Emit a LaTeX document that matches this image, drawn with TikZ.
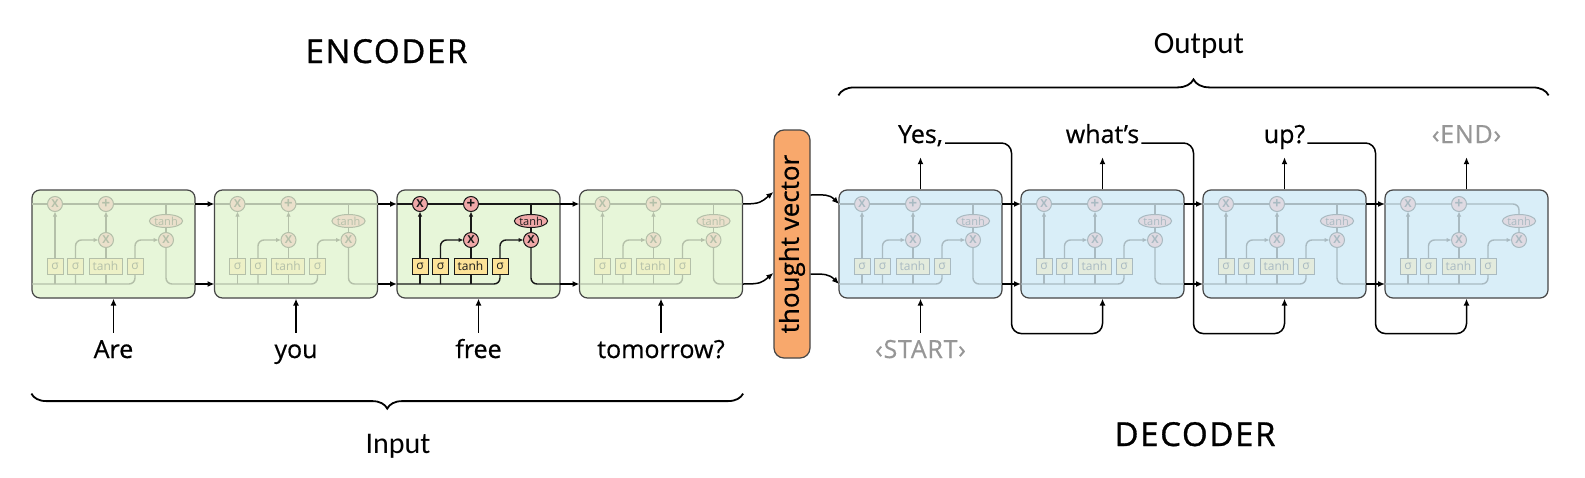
\documentclass[tikz,border=0pt]{standalone}
\usepackage{fontspec}
\usepackage{graphicx}
\setmainfont{Open Sans}
\newfontfamily\calibf{Carlito}
\newfontfamily\wordf[FakeBold=0.6]{Open Sans}
\newfontfamily\titlef[LetterSpace=5,FakeBold=0.9]{Open Sans}
\newfontfamily\grayf[LetterSpace=3,FakeBold=0.5]{Open Sans}
\usetikzlibrary{arrows.meta,decorations.pathreplacing,calc,shapes.geometric}
\definecolor{encbg}{RGB}{231,246,217}
\definecolor{decbg}{RGB}{217,238,248}
\definecolor{tvbg}{RGB}{248,168,108}
\definecolor{pinkc}{RGB}{240,168,168}
\definecolor{yelb}{RGB}{253,227,152}
\definecolor{cellbd}{RGB}{70,70,70}
\definecolor{grayt}{RGB}{150,150,150}
\colorlet{encline}{black!22!encbg}
\colorlet{enccirc}{pinkc!28!encbg}
\colorlet{encbox}{yelb!28!encbg}
\colorlet{decline}{black!22!decbg}
\colorlet{deccirc}{pinkc!28!decbg}
\colorlet{decbox}{yelb!28!decbg}
\colorlet{hlline}{black!90}
\colorlet{hlcirc}{pinkc}
\colorlet{hlbox}{yelb}
\colorlet{curline}{black}
\colorlet{curcirc}{pinkc}
\colorlet{curbox}{yelb}
\tikzset{
  cellbox/.style={draw=cellbd, line width=1.2pt, rounded corners=8pt, minimum width=163pt, minimum height=108pt, inner sep=0pt},
  inl/.style={draw=curline, line width=1.4pt},
  iarr/.style={inl, -{Latex[length=5pt,width=4.5pt]}},
  gate/.style={circle, minimum size=15pt, inner sep=0pt, fill=curcirc, draw=curline, line width=1pt, text=curline, font=\fontsize{11}{11}\selectfont\bfseries},
  gbox/.style={rectangle, minimum width=16pt, minimum height=16pt, inner sep=0pt, fill=curbox, draw=curline, line width=1pt, text=curline, font=\fontsize{12}{12}\selectfont},
  gell/.style={ellipse, minimum width=32pt, minimum height=13pt, inner sep=0pt, fill=curcirc, draw=curline, line width=1pt, text=curline, font=\fontsize{11}{11}\selectfont},
  arr/.style={line width=1.5pt, -{Latex[length=7pt,width=6pt]}},
  word/.style={font=\wordf\fontsize{25}{25}\selectfont, inner sep=2pt, text height=23pt, text depth=7pt, anchor=base},
  oword/.style={word, text depth=12pt},
  brc/.style={decorate, line width=1.8pt},
}
\newcommand\lstmcell[6]{%
\begin{scope}[shift={(#2,#3)}]
  \node[cellbox, fill=#4] (#1) at (81.5,54) {};
  \coordinate (#1-tl) at (0,14);
  \coordinate (#1-tr) at (163,14);
  \coordinate (#1-bl) at (0,94);
  \coordinate (#1-br) at (163,94);
  \colorlet{curline}{#5line}\colorlet{curcirc}{#5circ}\colorlet{curbox}{#5box}%
  \ifnum#6=1\relax
    \draw[inl, rounded corners=6pt] (0,14) -- (134,14) -- (134,44);
  \else
    \draw[inl] (0,14) -- (163,14);
    \draw[inl] (134,14) -- (134,44);
    \draw[inl, rounded corners=6pt] (134,50) -- (134,94) -- (163,94);
  \fi
  \draw[inl, rounded corners=6pt] (0,94) -- (103,94) -- (103,76);
  \draw[iarr] (23,94) -- (23,21.5);
  \draw[iarr, rounded corners=6pt] (43.5,94) -- (43.5,50) -- (66.5,50);
  \draw[inl] (74,94) -- (74,50);
  \draw[iarr] (74,42.5) -- (74,21.5);
  \draw[iarr, rounded corners=6pt] (103,76) -- (103,50) -- (126.5,50);
  \node[gate] (#1-f) at (23,14) {X};
  \node[gate, font=\fontsize{15}{15}\selectfont\bfseries] (#1-p) at (74,14) {+};
  \node[gate] (#1-m) at (74,50) {X};
  \node[gate] (#1-o) at (134,50) {X};
  \node[gell] (#1-t) at (134,31) {tanh};
  \node[gbox] (#1-s1) at (23,76) {σ};
  \node[gbox] (#1-s2) at (43.5,76) {σ};
  \node[gbox, minimum width=33pt] (#1-th) at (73.5,76) {tanh};
  \node[gbox] (#1-s3) at (103,76) {σ};
\end{scope}}
\begin{document}
\begin{tikzpicture}[x=1pt,y=-1pt]
\fill[white] (0,0) rectangle (1585,477);
\useasboundingbox (0,0) rectangle (1585,477);
\lstmcell{e1}{32}{190}{encbg}{enc}{0}
\lstmcell{e2}{214.5}{190}{encbg}{enc}{0}
\lstmcell{e3}{397}{190}{encbg}{hl}{0}
\lstmcell{e4}{579.5}{190}{encbg}{enc}{0}
\lstmcell{d1}{839}{190}{decbg}{dec}{0}
\lstmcell{d2}{1021}{190}{decbg}{dec}{0}
\lstmcell{d3}{1203}{190}{decbg}{dec}{0}
\lstmcell{d4}{1385}{190}{decbg}{dec}{1}
% thought vector
\node[draw=cellbd, line width=1.2pt, fill=tvbg, rounded corners=10pt, minimum width=36pt, minimum height=228pt, inner sep=0pt, font=\wordf\fontsize{26}{26}\selectfont] (tv) at (792,244) {\rotatebox{90}{thought vector}};
% state connectors
\foreach \a/\b in {e1/e2,e2/e3,e3/e4,d1/d2,d2/d3,d3/d4}{
  \draw[arr] (\a-tr) -- (\b-tl);
  \draw[arr] (\a-br) -- (\b-bl);
}
\coordinate (tvi1) at ($(tv.west)+(0,-52)$);
\coordinate (tvi2) at ($(tv.west)+(0,29)$);
\coordinate (tvo1) at ($(tv.east)+(0,-49)$);
\coordinate (tvo2) at ($(tv.east)+(0,30)$);
\draw[arr] (e4-tr) .. controls +(18,0) and +(-12,10) .. (tvi1);
\draw[arr] (e4-br) .. controls +(18,0) and +(-12,10) .. (tvi2);
\draw[arr] (tvo1) .. controls +(14,0) and +(-10,-10) .. (d1-tl);
\draw[arr] (tvo2) .. controls +(14,0) and +(-10,-10) .. (d1-bl);
% input words
\node[word] (w1) at (113.5,358) {Are};
\node[word] (w2) at (296,358) {you};
\node[word] (w3) at (478.5,358) {free};
\node[word] (w4) at (661,358) {tomorrow?};
\node[word, text=grayt, font=\grayf\fontsize{25}{25}\selectfont] (st) at (920.5,358) {‹START›};
\foreach \c/\w in {e1/w1,e2/w2,e3/w3,e4/w4,d1/st}{
  \draw[arr] (\c.south |- \w.north) -- (\c.south);
}
% output words
\node[oword] (o1) at (920.5,143) {Yes,};
\node[oword] (o2) at (1102.5,143) {what’s};
\node[oword] (o3) at (1284.5,143) {up?};
\node[oword, text=grayt, font=\grayf\fontsize{25}{25}\selectfont] (o4) at (1466.5,143) {‹END›};
\foreach \c/\w in {d1/o1,d2/o2,d3/o3,d4/o4}{
  \draw[arr] (\c.north) -- (\c.north |- \w.south);
}
% feedback
\coordinate (g1) at ($(d1.south east)!0.5!(d2.south west)+(0,35)$);
\coordinate (g2) at ($(d2.south east)!0.5!(d3.south west)+(0,35)$);
\coordinate (g3) at ($(d3.south east)!0.5!(d4.south west)+(0,35)$);
\draw[arr, rounded corners=10pt] (o1.base east) -| (g1) -| (d2.south);
\draw[arr, rounded corners=10pt] (o2.base east) -| (g2) -| (d3.south);
\draw[arr, rounded corners=10pt] (o3.base east) -| (g3) -| (d4.south);
% braces
\coordinate (ibl) at ($(e1.south west)+(0,95)$);
\coordinate (ibr) at ($(e4.south east)+(0,95)$);
\draw[brc, decoration={brace, mirror, amplitude=15pt}] (ibl) -- (ibr);
\coordinate (obl) at ($(d1.north west)+(0,-94)$);
\coordinate (obr) at ($(d4.north east)+(0,-94)$);
\draw[brc, decoration={brace, amplitude=16pt}] (obl) -- (obr);
% labels
\node[font=\calibf\fontsize{30}{30}\selectfont, anchor=base] (inp) at (398,453) {Input};
\node[font=\calibf\fontsize{31}{31}\selectfont, anchor=base] (outp) at (1199,53) {Output};
\node[font=\titlef\fontsize{33}{33}\selectfont, anchor=base] (enc) at (386.5,63) {ENCODER};
\node[font=\titlef\fontsize{33}{33}\selectfont, anchor=base] (dec) at (1195,446) {DECODER};
\end{tikzpicture}
\end{document}
